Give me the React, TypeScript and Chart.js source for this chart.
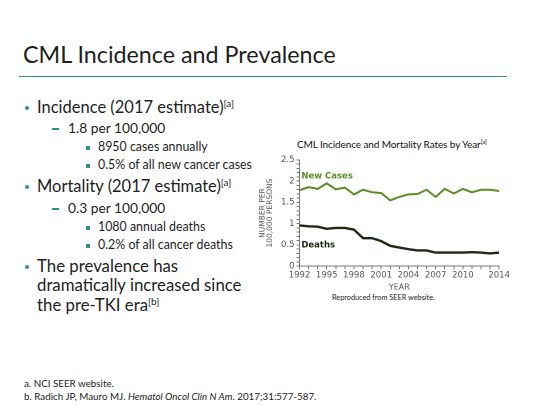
import React, { useEffect, useRef } from "react";
import { Chart, registerables } from "chart.js";

Chart.register(...registerables);

const years = [1992, 1993, 1994, 1995, 1996, 1997, 1998, 1999, 2000, 2001, 2002, 2003, 2004, 2005, 2006, 2007, 2008, 2009, 2010, 2011, 2012, 2013, 2014];
const newCases = [1.79, 1.86, 1.82, 1.95, 1.81, 1.85, 1.69, 1.80, 1.74, 1.72, 1.55, 1.63, 1.69, 1.70, 1.80, 1.63, 1.82, 1.71, 1.82, 1.74, 1.80, 1.80, 1.77];
const deaths = [0.96, 0.94, 0.93, 0.88, 0.90, 0.90, 0.86, 0.66, 0.66, 0.59, 0.48, 0.44, 0.40, 0.37, 0.37, 0.32, 0.32, 0.32, 0.32, 0.33, 0.32, 0.30, 0.32];
const xTickLabels = [1992, 1995, 1998, 2001, 2004, 2007, 2010, 2014];
const yTickLabels = [0, 0.5, 1, 1.5, 2, 2.5];
const seriesNames = ["New Cases", "Deaths"];
const seriesLabelPos = [
  { x: 1992.2, y: 2.12 },
  { x: 1992.2, y: 0.49 },
];

const GREEN = "#5b8c26";
const DARK = "#1c2a12";
const TEAL = "#2f8f93";
const TEXT = "#1e1e1e";
const FONT = "Lato, 'Open Sans', sans-serif";

const labelPlugin = {
  id: "seriesLabels",
  afterDatasetsDraw(chart: any) {
    const { ctx, scales } = chart;
    ctx.save();
    ctx.textBaseline = "middle";
    ctx.textAlign = "left";
    const colors = [GREEN, DARK];
    seriesNames.forEach((name, i) => {
      ctx.fillStyle = colors[i];
      ctx.font = "bold 8.5px 'DejaVu Sans', sans-serif";
      ctx.fillText(name, scales.x.getPixelForValue(seriesLabelPos[i].x), scales.y.getPixelForValue(seriesLabelPos[i].y));
    });
    ctx.restore();
  },
};

function ChartBox() {
  const ref = useRef<HTMLCanvasElement>(null);
  useEffect(() => {
    if (!ref.current) return;
    const chart = new Chart(ref.current, {
      type: "line",
      data: {
        datasets: [
          {
            label: seriesNames[0],
            data: years.map((y, i) => ({ x: y, y: newCases[i] })),
            borderColor: GREEN,
            borderWidth: 2,
            pointRadius: 0,
            tension: 0,
          },
          {
            label: seriesNames[1],
            data: years.map((y, i) => ({ x: y, y: deaths[i] })),
            borderColor: DARK,
            borderWidth: 2.4,
            pointRadius: 0,
            tension: 0,
          },
        ],
      },
      options: {
        animation: false,
        responsive: false,
        devicePixelRatio: 2,
        layout: { padding: { top: 10, right: 2, left: 7, bottom: 0 } },
        plugins: { legend: { display: false }, tooltip: { enabled: false } },
        scales: {
          x: {
            type: "linear",
            min: 1992,
            max: 2014,
            afterBuildTicks: (axis: any) => {
              axis.ticks = years.map((v) => ({ value: v }));
            },
            ticks: {
              autoSkip: false,
              maxRotation: 0,
              padding: 1,
              color: "#555",
              font: { family: "'DejaVu Sans', sans-serif", size: 8.5 },
              callback: (v: any) => (xTickLabels.includes(Number(v)) ? String(v) : ""),
            },
            grid: { display: true, drawOnChartArea: false, drawTicks: true, tickLength: 3, color: "#777" },
            border: { display: true, color: "#777", width: 1 },
            title: {
              display: true,
              text: "YEAR",
              color: "#555",
              font: { family: "'DejaVu Sans', sans-serif", size: 8 },
              padding: { top: 1, bottom: 0 },
            },
          },
          y: {
            min: 0,
            max: 2.5,
            afterBuildTicks: (axis: any) => {
              const t = [];
              for (let i = 0; i <= 25; i++) t.push({ value: i / 10 });
              axis.ticks = t;
            },
            ticks: {
              autoSkip: false,
              padding: 2,
              color: "#555",
              font: { family: "'DejaVu Sans', sans-serif", size: 8.5 },
              callback: (v: any) => {
                const n = Math.round(Number(v) * 10) / 10;
                return yTickLabels.includes(n) ? String(n) : "";
              },
            },
            grid: { display: true, drawOnChartArea: false, drawTicks: true, tickLength: 3, color: "#777" },
            border: { display: true, color: "#777", width: 1 },
            title: {
              display: true,
              text: ["NUMBER PER", "100,000 PERSONS"],
              color: "#555",
              font: { family: "'DejaVu Sans', sans-serif", size: 7.5, lineHeight: 1.0 },
              padding: { top: 0, bottom: 5 },
            },
          },
        },
      },
      plugins: [labelPlugin],
    });
    return () => chart.destroy();
  }, []);
  return <canvas ref={ref} width={259} height={142} style={{ width: 259, height: 142 }} />;
}

function Line({ x, base, size, children, style }: any) {
  const top = base - 0.887 * size;
  return (
    <div
      style={{
        position: "absolute",
        left: x,
        top,
        fontSize: size,
        lineHeight: 1,
        whiteSpace: "nowrap",
        color: TEXT,
        ...style,
      }}
    >
      {children}
    </div>
  );
}

function Mark({ x, y, w, h, round }: any) {
  return (
    <div
      style={{
        position: "absolute",
        left: x,
        top: y - h / 2,
        width: w,
        height: h,
        background: TEAL,
        borderRadius: round ? "50%" : 0,
      }}
    />
  );
}

const Sup = ({ children }: any) => (
  <span style={{ fontSize: "0.6em", verticalAlign: "0.6em" }}>{children}</span>
);

export default function App() {
  return (
    <div
      style={{
        position: "fixed",
        left: 0,
        top: 0,
        width: 540,
        height: 405,
        background: "#fff",
        fontFamily: FONT,
        overflow: "hidden",
      }}
    >
      <Line x={23} base={64} size={23.3}>CML Incidence and Prevalence</Line>
      <div style={{ position: "absolute", left: 19, top: 75.5, width: 488, height: 1.3, background: TEAL }} />

      <Mark x={25} y={107.5} w={4} h={4} round />
      <Line x={37} base={114} size={16.5}>Incidence (2017 estimate)<Sup>[a]</Sup></Line>
      <Mark x={52} y={129} w={6.5} h={1.2} />
      <Line x={68} base={133} size={13.8}>1.8 per 100,000</Line>
      <Mark x={86} y={148} w={4} h={4} />
      <Line x={98} base={152} size={12.4}>8950 cases annually</Line>
      <Mark x={86} y={166} w={4} h={4} />
      <Line x={98} base={170} size={12.4}>0.5% of all new cancer cases</Line>

      <Mark x={25} y={187} w={4} h={4} round />
      <Line x={37} base={193} size={16.5}>Mortality (2017 estimate)<Sup>[a]</Sup></Line>
      <Mark x={52} y={209} w={6.5} h={1.2} />
      <Line x={68} base={213} size={13.8}>0.3 per 100,000</Line>
      <Mark x={86} y={228} w={4} h={4} />
      <Line x={98} base={232} size={12.4}>1080 annual deaths</Line>
      <Mark x={86} y={246} w={4} h={4} />
      <Line x={98} base={250} size={12.4}>0.2% of all cancer deaths</Line>

      <Mark x={25} y={267} w={4} h={4} round />
      <Line x={37} base={273} size={16.8}>The prevalence has</Line>
      <Line x={37} base={292} size={16.8}>dramatically increased since</Line>
      <Line x={37} base={311} size={16.8}>the pre-TKI era<Sup>[b]</Sup></Line>

      <Line x={297} base={148} size={10} style={{ color: "#111", letterSpacing: -0.1 }}>
        CML Incidence and Mortality Rates by Year<Sup>[a]</Sup>
      </Line>
      <div style={{ position: "absolute", left: 252, top: 150 }}>
        <ChartBox />
      </div>
      <Line x={332} base={300} size={7.3} style={{ color: "#222" }}>Reproduced from SEER website.</Line>

      <Line x={24} base={388} size={9.8} style={{ color: "#222" }}>a. NCI SEER website.</Line>
      <Line x={24} base={401} size={9.8} style={{ color: "#222" }}>
        b. Radich JP, Mauro MJ. <i>Hematol Oncol Clin N Am</i>. 2017;31:577-587.
      </Line>
    </div>
  );
}
